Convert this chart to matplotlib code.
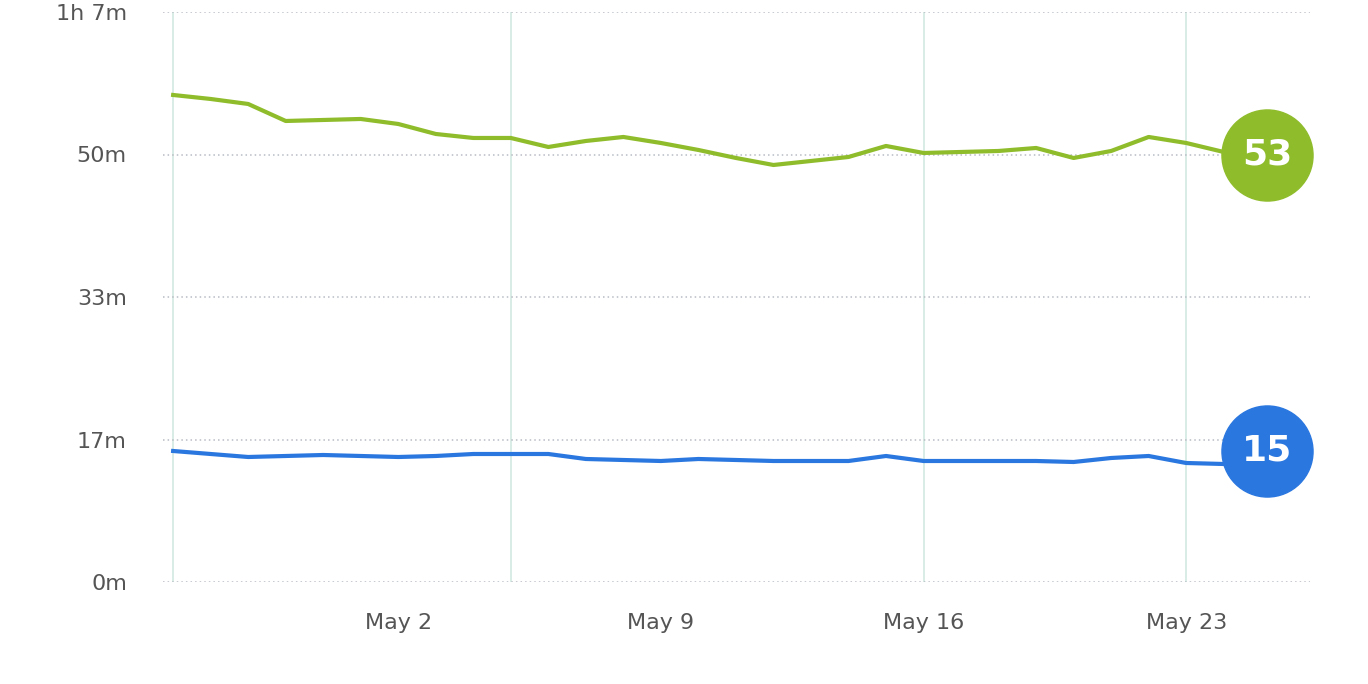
import numpy as np
import pandas as pd
import matplotlib
matplotlib.use("Agg")
import matplotlib.pyplot as plt
import matplotlib.dates as mdates

dates = pd.date_range("2024-04-26", "2024-05-25", freq="D")
green_px = [95, 99, 104, 121, 120, 119, 124, 134, 138, 138, 147, 141, 137, 143, 150,
            158, 165, 161, 157, 146, 153, 152, 151, 148, 158, 151, 137, 143, 152, 155]
blue_px = [451, 454, 457, 456, 455, 456, 457, 456, 454, 454, 454, 459, 460, 461, 459,
           460, 461, 461, 461, 456, 461, 461, 461, 461, 462, 458, 456, 463, 464, 464]
# pixel readings converted to minutes
green = [(582 - p) / 8.507 for p in green_px]
blue = [(582 - p) / 8.507 for p in blue_px]

ytick_vals = [0, 16.75, 33.5, 50.25, 67]
ytick_labels = ["0m", "17m", "33m", "50m", "1h 7m"]
vlines = ["2024-04-26", "2024-05-05", "2024-05-16", "2024-05-23"]
xtick_dates = ["2024-05-02", "2024-05-09", "2024-05-16", "2024-05-23"]
xtick_labels = ["May 2", "May 9", "May 16", "May 23"]
badges = [("53", 50.25, "#8fbc2b"), ("15", 15.4, "#2a77e0")]

fig = plt.figure(figsize=(13.68, 6.84), dpi=100)
ax = fig.add_axes([163 / 1368, 102 / 684, (1310 - 163) / 1368, 570 / 684])

for d in vlines:
    ax.axvline(pd.Timestamp(d), color="#d5ebe4", lw=1.3, zorder=1)
for v in ytick_vals:
    ax.axhline(v, color="#b8bcc4", lw=1.1, ls=(0, (1, 2)), zorder=1)

ax.plot(dates, green, color="#8fbc2b", lw=3, zorder=3)
ax.plot(dates, blue, color="#2a77e0", lw=3, zorder=3)

x0 = pd.Timestamp("2024-04-26")
ax.set_xlim(x0 - pd.Timedelta(days=0.27), x0 + pd.Timedelta(days=30.3))
ax.set_ylim(0, 67)

badge_x = pd.Timestamp("2024-05-25") + pd.Timedelta(hours=4)
for txt, y, c in badges:
    ax.scatter([badge_x], [y], s=4300, color=c, zorder=5, clip_on=False)
    ax.text(badge_x, y, txt, color="white", fontsize=26, fontweight="bold",
            ha="center", va="center", zorder=6)

ax.set_yticks(ytick_vals)
ax.set_yticklabels(ytick_labels)
ax.set_xticks([pd.Timestamp(d) for d in xtick_dates])
ax.set_xticklabels(xtick_labels)
ax.tick_params(length=0, labelsize=16, colors="#555555")
ax.tick_params(axis="y", pad=26)
ax.tick_params(axis="x", pad=22)
for s in ax.spines.values():
    s.set_visible(False)

fig.savefig("out.png", dpi=100)
